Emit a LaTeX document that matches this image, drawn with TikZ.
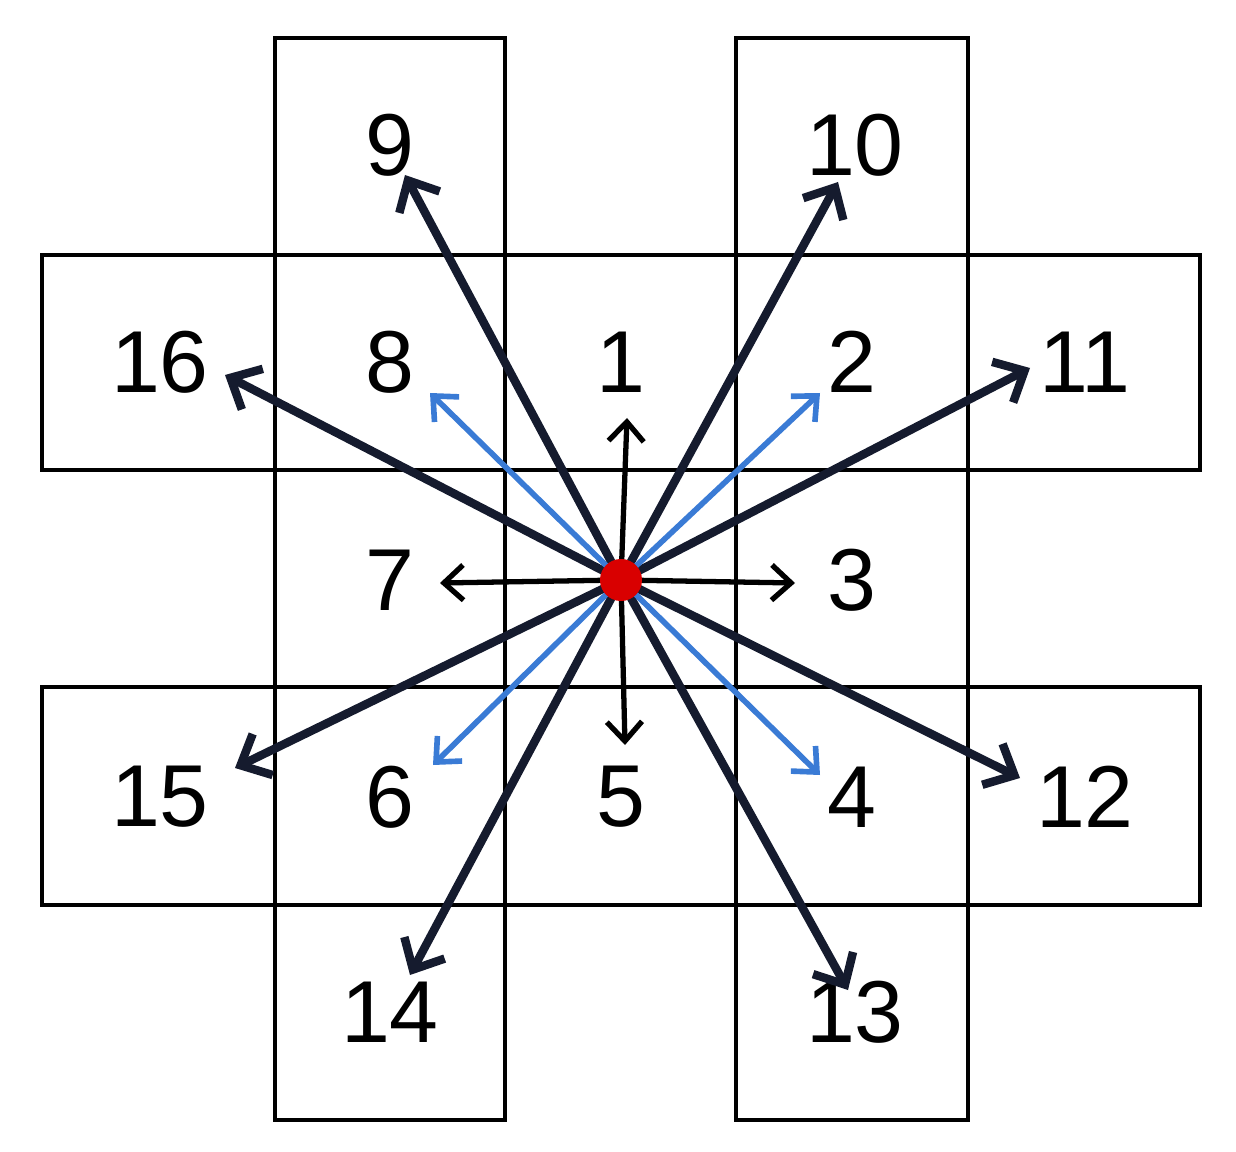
\documentclass[tikz,border=0pt]{standalone}
\usepackage{fontspec}
\setmainfont{Liberation Sans}
\usetikzlibrary{arrows.meta}
\definecolor{navy}{HTML}{151B2E}
\definecolor{bl}{HTML}{3A7BD5}
\begin{document}
\begin{tikzpicture}[x=0.01cm,y=-0.01cm,
  box/.style={draw,line width=0.9pt},
  lab/.style={font=\fontsize{25}{25}\selectfont,inner sep=0pt},
  thick arr/.style={draw=navy,line width=2.4pt,-{Straight Barb[length=7pt,width=13pt,line width=2.4pt]}},
  blue arr/.style={draw=bl,line width=1.6pt,-{Straight Barb[length=5.5pt,width=10pt,line width=1.6pt]}},
  thin arr/.style={draw=black,line width=1.5pt,-{Straight Barb[length=5.5pt,width=10pt,line width=1.5pt]}}]
\useasboundingbox (0,0) rectangle (1236,1152);
\draw[box] (275,38) rectangle (505,1120);
\draw[box] (736,38) rectangle (968,1120);
\draw[box] (42,255) rectangle (1200,470);
\draw[box] (42,687) rectangle (1200,905);
\foreach \n/\x/\y in {9/390/145,10/855/145,16/160/362,8/390/362,1/621/362,2/852/362,11/1085/362,7/390/580,3/852/580,15/160/797,6/390/797,5/621/797,4/852/797,12/1085/797,14/390/1012,13/855/1012}
  \node[lab] (l\n) at (\x,\y) {\n};
\coordinate (c) at (621,580);
\foreach \n/\x/\y in {9/405/175,10/838/182,16/225/375,11/1030/368,15/235/768,12/1020/778,14/410/975,13/848/990}
  {\coordinate (t\n) at (\x,\y); \draw[thick arr] (c) -- (t\n);}
\foreach \n/\x/\y in {8/430/393,2/820/393,6/433/765,4/820/775}
  {\coordinate (t\n) at (\x,\y); \draw[blue arr] (c) -- (t\n);}
\foreach \n/\x/\y in {1/627/418,5/625/745,7/440/583,3/795/583}
  {\coordinate (t\n) at (\x,\y); \draw[thin arr] (c) -- (t\n);}
\node[circle,fill=red!85!black,minimum size=0.42cm,inner sep=0pt] (dot) at (c) {};
\end{tikzpicture}
\end{document}
